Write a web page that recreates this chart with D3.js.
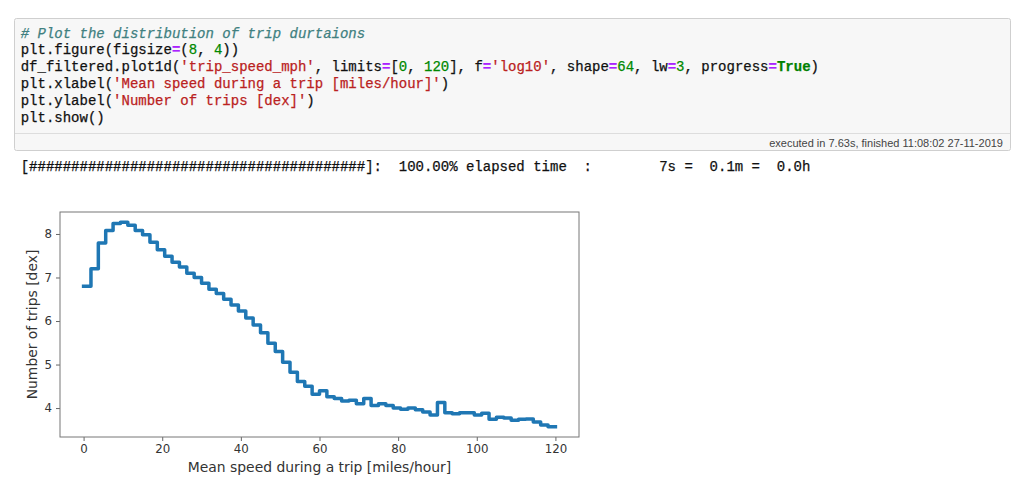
<!DOCTYPE html>
<html>
<head>
<meta charset="utf-8">
<script src="https://cdn.jsdelivr.net/npm/d3@7"></script>
<style>
  html, body { margin: 0; padding: 0; background: #ffffff; }
  svg { display: block; }
  .mono { font-family: "Liberation Mono", "DejaVu Sans Mono", monospace; font-size: 14px; white-space: pre; }
  .mpl { font-family: "DejaVu Sans", sans-serif; }
</style>
</head>
<body>
<svg id="page" width="1032" height="486"></svg>
<script>
// ---------- data ----------
const histLimits = [0, 120];        // limits=[0, 120]
const histShape = 64;               // shape=64
// log10 of number of trips per speed bin
const logCounts = [
  6.80, 7.20, 7.79, 8.08, 8.24, 8.27, 8.20, 8.08, 7.98, 7.81,
  7.64, 7.49, 7.35, 7.24, 7.10, 7.00, 6.87, 6.73, 6.63, 6.50,
  6.37, 6.23, 6.07, 5.91, 5.73, 5.49, 5.30, 5.05, 4.82, 4.61,
  4.50, 4.32, 4.40, 4.26, 4.22, 4.16, 4.18, 4.10, 4.22, 4.06,
  4.10, 4.06, 4.00, 3.97, 4.00, 3.96, 3.91, 3.84, 4.13, 3.89,
  3.87, 3.89, 3.89, 3.84, 3.88, 3.74, 3.79, 3.77, 3.72, 3.74,
  3.75, 3.68, 3.61, 3.57
];
const xTicks = [0, 20, 40, 60, 80, 100, 120];
const yTicks = [4, 5, 6, 7, 8];
const xLabel = "Mean speed during a trip [miles/hour]";
const yLabel = "Number of trips [dex]";

// ---------- notebook text ----------
const codeLines = [
  [["# Plot the distribution of trip durtaions", "c"]],
  [["plt.figure(figsize", ""], ["=", "o"], ["(", ""], ["8", "n"], [", ", ""], ["4", "n"], ["))", ""]],
  [["df_filtered.plot1d(", ""], ["'trip_speed_mph'", "s"], [", limits", ""], ["=", "o"], ["[", ""], ["0", "n"], [", ", ""], ["120", "n"], ["], f", ""], ["=", "o"], ["'log10'", "s"], [", shape", ""], ["=", "o"], ["64", "n"], [", lw", ""], ["=", "o"], ["3", "n"], [", progress", ""], ["=", "o"], ["True", "k"], [")", ""]],
  [["plt.xlabel(", ""], ["'Mean speed during a trip [miles/hour]'", "s"], [")", ""]],
  [["plt.ylabel(", ""], ["'Number of trips [dex]'", "s"], [")", ""]],
  [["plt.show()", ""]]
];
const execText = "executed in 7.63s, finished 11:08:02 27-11-2019";
const progressText = "[" + "#".repeat(40) + "]:  100.00% elapsed time  :        7s =  0.1m =  0.0h";

const svg = d3.select("#page");

// code cell
svg.append("rect").attr("x", 14.5).attr("y", 18.5).attr("width", 996).attr("height", 132)
  .attr("rx", 2).attr("fill", "#f7f7f7").attr("stroke", "#cfcfcf");
svg.append("line").attr("x1", 15).attr("x2", 1010).attr("y1", 133.5).attr("y2", 133.5)
  .attr("stroke", "#dddddd");

const styles = {
  "":  {fill: "#111111", style: "normal", weight: "normal"},
  "c": {fill: "#408080", style: "italic", weight: "normal"},
  "o": {fill: "#AA22FF", style: "normal", weight: "bold"},
  "n": {fill: "#008800", style: "normal", weight: "normal"},
  "s": {fill: "#BA2121", style: "normal", weight: "normal"},
  "k": {fill: "#008000", style: "normal", weight: "bold"}
};
codeLines.forEach((toks, i) => {
  const t = svg.append("text").attr("class", "mono").attr("x", 20.7).attr("y", 37.5 + i * 16.8)
    .attr("stroke-width", 0.25);
  toks.forEach(([txt, cls]) => {
    const s = styles[cls];
    t.append("tspan").text(txt).attr("fill", s.fill).attr("stroke", s.fill)
      .attr("font-style", s.style).attr("font-weight", s.weight);
  });
});

svg.append("text").attr("x", 1003).attr("y", 146.5).attr("text-anchor", "end")
  .style("font-family", "'Liberation Sans', Arial, sans-serif").style("font-size", "11px")
  .attr("fill", "#444").text(execText);

svg.append("text").attr("class", "mono").attr("x", 20.7).attr("y", 171).attr("fill", "#111")
  .attr("stroke", "#111").attr("stroke-width", 0.25)
  .text(progressText);

// ---------- chart ----------
const ax = {left: 60, right: 579, top: 212, bottom: 437};
const yMin = d3.min(logCounts), yMax = d3.max(logCounts);
const yPad = (yMax - yMin) * 0.05;
const xPad = (histLimits[1] - histLimits[0]) * 0.05;

const x = d3.scaleLinear().domain([histLimits[0] - xPad, histLimits[1] + xPad]).range([ax.left, ax.right]);
const y = d3.scaleLinear().domain([yMin - yPad, yMax + yPad]).range([ax.bottom, ax.top]);

const binW = (histLimits[1] - histLimits[0]) / histShape;
const pts = logCounts.map((v, i) => [histLimits[0] + i * binW, v]);
pts.push([histLimits[1], logCounts[logCounts.length - 1]]);

const g = svg.append("g");

g.append("path")
  .attr("d", d3.line().x(d => x(d[0])).y(d => y(d[1])).curve(d3.curveStepAfter)(pts))
  .attr("fill", "none").attr("stroke", "#1f77b4").attr("stroke-width", 3.5)
  .attr("stroke-linejoin", "round").attr("stroke-linecap", "square");

// axes
const xAxis = d3.axisBottom(x).tickValues(xTicks).tickSize(4).tickPadding(4).tickFormat(d3.format("d"));
const yAxis = d3.axisLeft(y).tickValues(yTicks).tickSize(4).tickPadding(4).tickFormat(d3.format("d"));

const gx = g.append("g").attr("transform", `translate(0,${ax.bottom})`).call(xAxis);
const gy = g.append("g").attr("transform", `translate(${ax.left},0)`).call(yAxis);
[gx, gy].forEach(a => {
  a.select(".domain").remove();
  a.selectAll(".tick line").attr("stroke", "#555").attr("stroke-width", 0.9);
  a.selectAll(".tick text").attr("class", "mpl").style("font-size", "11.8px").attr("fill", "#333");
});

// frame (spines)
g.append("rect").attr("x", ax.left).attr("y", ax.top)
  .attr("width", ax.right - ax.left).attr("height", ax.bottom - ax.top)
  .attr("fill", "none").attr("stroke", "#777").attr("stroke-width", 1);

// labels
g.append("text").attr("class", "mpl").attr("x", (ax.left + ax.right) / 2).attr("y", 471.5)
  .attr("text-anchor", "middle").style("font-size", "13.9px").attr("fill", "#333").text(xLabel);
g.append("text").attr("class", "mpl")
  .attr("transform", `translate(37,${(ax.top + ax.bottom) / 2}) rotate(-90)`)
  .attr("text-anchor", "middle").style("font-size", "13.9px").attr("fill", "#333").text(yLabel);
</script>
</body>
</html>
